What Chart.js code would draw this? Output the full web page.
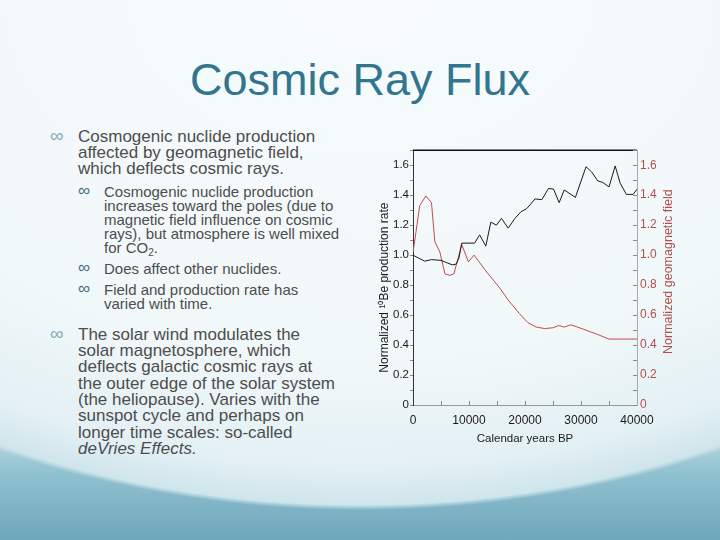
<!DOCTYPE html>
<html>
<head>
<meta charset="utf-8">
<script src="https://cdn.jsdelivr.net/npm/chart.js@4.4.1/dist/chart.umd.min.js"></script>
<style>
  html, body { margin: 0; padding: 0; }
  body {
    width: 720px; height: 540px; overflow: hidden; position: relative;
    font-family: "Liberation Sans", Arial, sans-serif; color: #4d4d4d;
    background:
      radial-gradient(ellipse 770px 510px at 360px 0px, #f7fbfd 0%, #f1f8fa 70%, #e3f0f4 92%, #cfe5ec 99%, rgba(180,215,226,0) 100%),
      linear-gradient(to bottom, #e8f3f6 0%, #c5e0e8 78%, #8fc0d0 88%, #6ea7bb 100%);
  }
  .title {
    position: absolute; left: 0; top: 57px; width: 720px; text-align: center;
    font-size: 45px; line-height: 45px; color: #31758f;
  }
  .para { position: absolute; white-space: nowrap; }
  .l1 { left: 78px; font-size: 17px; line-height: 15.8px; }
  .l1b { left: 78px; font-size: 17px; line-height: 16.33px; }
  .l2 { left: 104px; font-size: 15px; line-height: 14.15px; }
  .bul { position: absolute; line-height: 16px; }
  .b1 { left: 50px; color: #86aab9; font-size: 19px; }
  .b2 { left: 78px; color: #4b6f80; font-size: 17px; }
  sub { font-size: 10px; line-height: 0; vertical-align: -3px; }
  #wrap { position: absolute; left: 375px; top: 140px; width: 310px; height: 310px; }
</style>
</head>
<body>
<div class="title">Cosmic Ray Flux</div>

<span class="bul b1" style="top:128px">&#x221E;</span>
<div class="para l1" style="top:129px">Cosmogenic nuclide production<br>affected by geomagnetic field,<br>which deflects cosmic rays.</div>

<span class="bul b2" style="top:183px">&#x221E;</span>
<div class="para l2" style="top:184.5px">Cosmogenic nuclide production<br>increases toward the poles (due to<br>magnetic field influence on cosmic<br>rays), but atmosphere is well mixed<br>for CO<sub>2</sub>.</div>

<span class="bul b2" style="top:260px">&#x221E;</span>
<div class="para l2" style="top:262px">Does affect other nuclides.</div>

<span class="bul b2" style="top:281px">&#x221E;</span>
<div class="para l2" style="top:283px">Field and production rate has<br>varied with time.</div>

<span class="bul b1" style="top:326px">&#x221E;</span>
<div class="para l1b" style="top:326.7px">The solar wind modulates the<br>solar magnetosphere, which<br>deflects galactic cosmic rays at<br>the outer edge of the solar system<br>(the heliopause). Varies with the<br>sunspot cycle and perhaps on<br>longer time scales: so-called<br><i>deVries Effects.</i></div>

<div id="wrap"><canvas id="chart"></canvas></div>

<script>
// 10Be production rate (black, left axis)
const yearsBe = [0, 1000, 2100, 3300, 5000, 6000, 7000, 7700, 8200, 8700, 11000, 11900, 13000, 13900,
  14900, 15800, 17000, 18200, 19300, 20300, 21800, 23000, 24200, 25100, 26100, 27000, 29000,
  30900, 31900, 33000, 33900, 35000, 36100, 37000, 38100, 39300, 40000];
const beRate = [1.0, 0.98, 0.96, 0.97, 0.965, 0.95, 0.935, 0.94, 0.98, 1.08, 1.08, 1.135, 1.06, 1.22,
  1.20, 1.245, 1.18, 1.245, 1.29, 1.31, 1.375, 1.37, 1.445, 1.44, 1.35, 1.435, 1.385,
  1.59, 1.555, 1.495, 1.485, 1.455, 1.595, 1.48, 1.405, 1.405, 1.44];

// geomagnetic field (red, right axis)
const yearsField = [0, 400, 1200, 2300, 3300, 3900, 4800, 5700, 6600, 7300, 8700, 9900, 10900,
  13000, 15500, 17000, 19000, 20500, 22000, 23500, 25000, 26000, 27000, 28200, 30500, 33000, 35000, 40000];
const fieldStrength = [1.02, 1.12, 1.33, 1.395, 1.35, 1.09, 1.02, 0.875, 0.865, 0.875, 1.07, 0.955, 1.0,
  0.895, 0.78, 0.70, 0.61, 0.55, 0.52, 0.51, 0.515, 0.53, 0.52, 0.535, 0.505, 0.47, 0.44, 0.44];

const xTickLabels = ['0', '10000', '20000', '30000', '40000'];
const yTickLabels = ['0', '0.2', '0.4', '0.6', '0.8', '1.0', '1.2', '1.4', '1.6'];

const RED = '#c44a4a';
const RED_TEXT = '#b24f50';

function yLabel(v) {
  const s = Math.abs(v) < 1e-9 ? '0' : v.toFixed(1);
  return yTickLabels.includes(s) ? s : '';
}

// top frame, inward ticks and rotated axis titles
const framePlugin = {
  id: 'frame',
  afterDraw(chart) {
    const ctx = chart.ctx;
    const a = chart.chartArea;
    const xs = chart.scales.x, yr = chart.scales.y2;
    ctx.save();
    ctx.strokeStyle = '#111';
    ctx.lineWidth = 1.4;
    ctx.beginPath();
    ctx.moveTo(a.left, a.top);
    ctx.lineTo(a.right, a.top);
    ctx.stroke();

    ctx.strokeStyle = '#8a8a8a';
    ctx.lineWidth = 1;
    ctx.beginPath();
    xs.ticks.forEach(t => {
      const px = Math.round(xs.getPixelForValue(t.value)) + 0.5;
      if (t.value > 0 && t.value < 40000) {
        ctx.moveTo(px, a.bottom);
        ctx.lineTo(px, a.bottom - 4);
      }
    });
    yr.ticks.forEach(t => {
      const py = Math.round(yr.getPixelForValue(t.value)) + 0.5;
      ctx.moveTo(a.right, py);
      ctx.lineTo(a.right - 4, py);
    });
    ctx.stroke();

    ctx.textAlign = 'center';
    ctx.textBaseline = 'middle';
    const midY = (a.top + a.bottom) / 2;

    ctx.fillStyle = '#1a1a1a';
    ctx.font = '12px "Liberation Sans", Arial, sans-serif';
    ctx.translate(a.left - 28, midY + 10);
    ctx.rotate(-Math.PI / 2);
    ctx.fillText('Normalized \u00B9\u2070Be production rate', 0, 0);
    ctx.setTransform(1, 0, 0, 1, 0, 0);
    ctx.scale(chart.currentDevicePixelRatio, chart.currentDevicePixelRatio);

    ctx.fillStyle = RED_TEXT;
    ctx.font = '12.5px "Liberation Sans", Arial, sans-serif';
    ctx.translate(a.right + 32, midY - 6);
    ctx.rotate(-Math.PI / 2);
    ctx.fillText('Normalized geomagnetic field', 0, 0);
    ctx.restore();
  }
};

new Chart(document.getElementById('chart'), {
  type: 'line',
  data: {
    datasets: [{
      label: '10Be',
      data: yearsBe.map((x, i) => ({ x: x, y: beRate[i] })),
      yAxisID: 'y',
      borderColor: '#1a1a1a',
      borderWidth: 1,
      pointRadius: 0,
      tension: 0
    }, {
      label: 'field',
      data: yearsField.map((x, i) => ({ x: x, y: fieldStrength[i] })),
      yAxisID: 'y2',
      borderColor: RED,
      borderWidth: 1,
      pointRadius: 0,
      tension: 0
    }]
  },
  options: {
    responsive: true,
    maintainAspectRatio: false,
    animation: false,
    layout: { padding: { top: 7, left: 0, right: 0, bottom: 0 } },
    plugins: { legend: { display: false }, tooltip: { enabled: false } },
    scales: {
      x: {
        type: 'linear', min: 0, max: 40000,
        afterFit(s) { s.height = 45; },
        border: { color: '#9a9a9a' },
        grid: { drawOnChartArea: false, drawTicks: false },
        ticks: {
          stepSize: 5000, autoSkip: false, maxRotation: 0, padding: 8,
          color: '#1a1a1a', font: { size: 12, family: '"Liberation Sans", Arial' },
          callback: v => xTickLabels.includes(String(v)) ? String(v) : ''
        },
        title: {
          display: true, text: 'Calendar years BP', color: '#1a1a1a',
          font: { size: 11.5, family: '"Liberation Sans", Arial' }, padding: { top: 0, bottom: 4 }
        }
      },
      y: {
        position: 'left', min: 0, max: 1.7,
        afterFit(s) { s.width = 38; },
        border: { color: '#333' },
        grid: { drawOnChartArea: false, tickLength: 3, color: '#8a8a8a' },
        ticks: {
          stepSize: 0.1, autoSkip: false, padding: 1, color: '#1a1a1a',
          font: { size: 11.5, family: '"Liberation Sans", Arial' }, callback: yLabel
        }
      },
      y2: {
        position: 'right', min: 0, max: 1.7,
        afterFit(s) { s.width = 48; },
        border: { color: '#aaaaaa' },
        grid: { drawOnChartArea: false, drawTicks: false },
        ticks: {
          stepSize: 0.1, autoSkip: false, padding: 3, color: RED_TEXT,
          font: { size: 12, family: '"Liberation Sans", Arial' }, callback: yLabel
        }
      }
    }
  },
  plugins: [framePlugin]
});
</script>
</body>
</html>
